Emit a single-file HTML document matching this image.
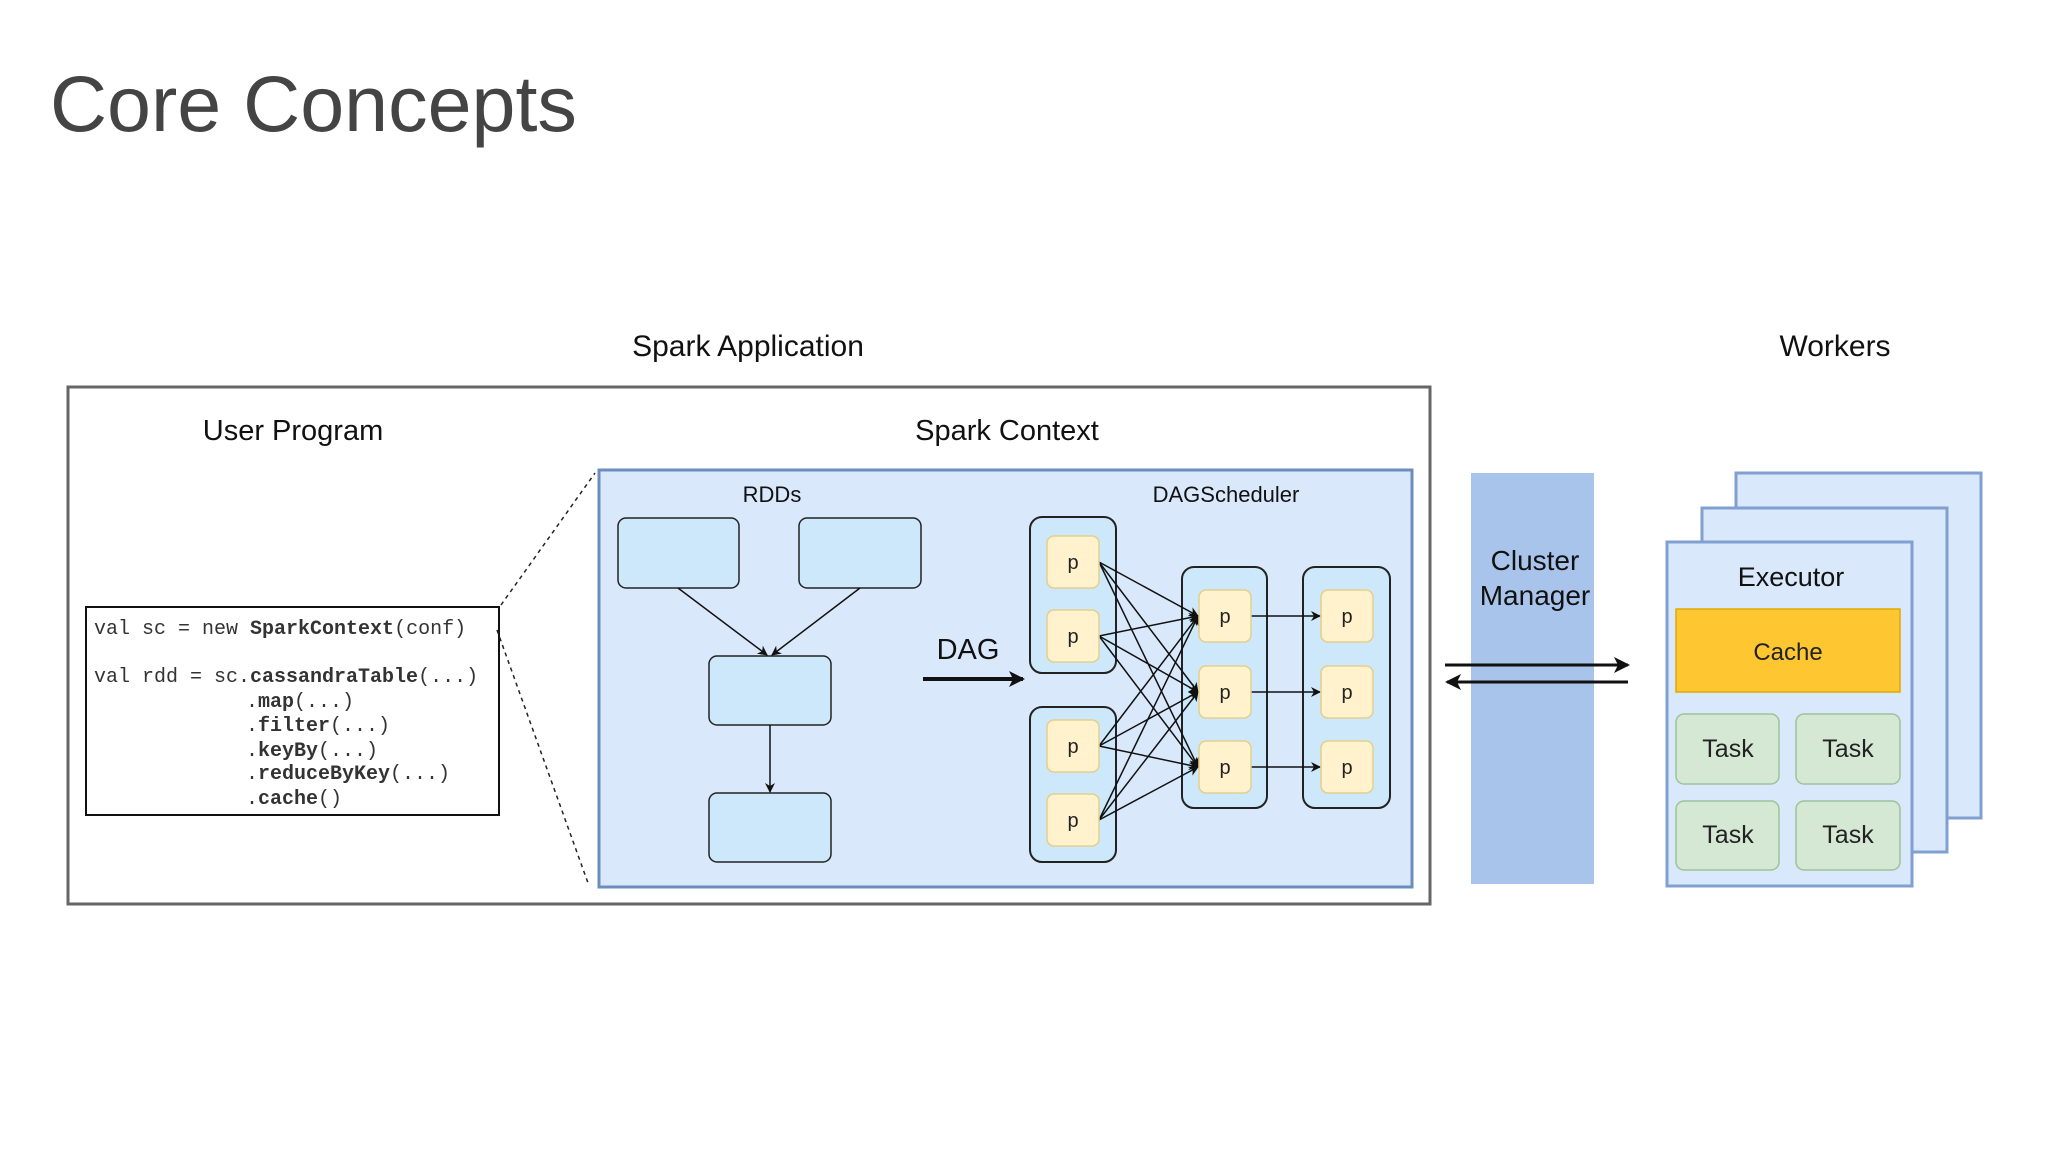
<!DOCTYPE html>
<html><head><meta charset="utf-8"><style>
html,body{margin:0;padding:0;background:#fff;}
svg{display:block;}
text{font-family:"Liberation Sans",sans-serif;}
.m{font-family:"Liberation Mono",monospace;font-size:20px;fill:#333;}
</style></head><body>
<svg width="2048" height="1152" viewBox="0 0 2048 1152" xmlns="http://www.w3.org/2000/svg">
<defs>
<marker id="a" markerWidth="10" markerHeight="10" refX="9" refY="5" orient="auto" markerUnits="userSpaceOnUse"><path d="M0,0 L10,5 L0,10 L3,5 Z" fill="#111"/></marker>
<marker id="b" markerWidth="16" markerHeight="16" refX="14" refY="8" orient="auto" markerUnits="userSpaceOnUse"><path d="M0,0 L16,8 L0,16 L4,8 Z" fill="#111"/></marker>
</defs>
<text x="50" y="131" font-size="79" fill="#444">Core Concepts</text>
<text x="748" y="356" font-size="30" text-anchor="middle" fill="#111">Spark Application</text>
<text x="1835" y="356" font-size="30" text-anchor="middle" fill="#111">Workers</text>

<rect x="68" y="387" width="1362" height="517" fill="#fff" stroke="#666" stroke-width="3"/>
<text x="293" y="440" font-size="29" text-anchor="middle" fill="#111">User Program</text>
<text x="1007" y="440" font-size="29" text-anchor="middle" fill="#111">Spark Context</text>

<rect x="86" y="607" width="413" height="208" fill="#fff" stroke="#111" stroke-width="2"/>
<text class="m" x="94" y="634">val sc = new <tspan font-weight="bold">SparkContext</tspan>(conf)</text>
<text class="m" x="94" y="682">val rdd = sc.<tspan font-weight="bold">cassandraTable</tspan>(...)</text>
<text class="m" x="246" y="707">.<tspan font-weight="bold">map</tspan>(...)</text>
<text class="m" x="246" y="731">.<tspan font-weight="bold">filter</tspan>(...)</text>
<text class="m" x="246" y="756">.<tspan font-weight="bold">keyBy</tspan>(...)</text>
<text class="m" x="246" y="779">.<tspan font-weight="bold">reduceByKey</tspan>(...)</text>
<text class="m" x="246" y="804">.<tspan font-weight="bold">cache</tspan>()</text>

<rect x="599" y="470" width="813" height="417" fill="#dae8fc" stroke="#6c8ebf" stroke-width="3"/>
<line x1="501" y1="605" x2="595" y2="473" stroke="#222" stroke-width="1.5" stroke-dasharray="4,4"/>
<line x1="497" y1="630" x2="588" y2="883" stroke="#222" stroke-width="1.5" stroke-dasharray="4,4"/>

<text x="772" y="502" font-size="22" text-anchor="middle" fill="#111">RDDs</text>
<g fill="#cce8fa" stroke="#222" stroke-width="1.5">
<rect x="618" y="518" width="121" height="70" rx="8"/>
<rect x="799" y="518" width="122" height="70" rx="8"/>
<rect x="709" y="656" width="122" height="69" rx="8"/>
<rect x="709" y="793" width="122" height="69" rx="8"/>
</g>
<g stroke="#111" stroke-width="1.5" marker-end="url(#a)">
<line x1="678" y1="588" x2="767" y2="655"/>
<line x1="860" y1="588" x2="772" y2="655"/>
<line x1="770" y1="725" x2="770" y2="792"/>
</g>
<text x="968" y="659" font-size="29" text-anchor="middle" fill="#111">DAG</text>
<line x1="923" y1="679" x2="1023" y2="679" stroke="#111" stroke-width="4" marker-end="url(#b)"/>

<text x="1226" y="502" font-size="22" text-anchor="middle" fill="#111">DAGScheduler</text>
<g fill="#cce8fa" stroke="#222" stroke-width="2">
<rect x="1030" y="517" width="86" height="156" rx="12"/>
<rect x="1030" y="707" width="86" height="155" rx="12"/>
<rect x="1182" y="567" width="85" height="241" rx="12"/>
<rect x="1303" y="567" width="87" height="241" rx="12"/>
</g>
<g stroke="#111" stroke-width="1.5" marker-end="url(#a)">
<line x1="1099" y1="562" x2="1198" y2="616"/><line x1="1099" y1="562" x2="1198" y2="692"/><line x1="1099" y1="562" x2="1198" y2="767"/>
<line x1="1099" y1="636" x2="1198" y2="616"/><line x1="1099" y1="636" x2="1198" y2="692"/><line x1="1099" y1="636" x2="1198" y2="767"/>
<line x1="1099" y1="746" x2="1198" y2="616"/><line x1="1099" y1="746" x2="1198" y2="692"/><line x1="1099" y1="746" x2="1198" y2="767"/>
<line x1="1099" y1="820" x2="1198" y2="616"/><line x1="1099" y1="820" x2="1198" y2="692"/><line x1="1099" y1="820" x2="1198" y2="767"/>
<line x1="1251" y1="616" x2="1320" y2="616"/><line x1="1251" y1="692" x2="1320" y2="692"/><line x1="1251" y1="767" x2="1320" y2="767"/>
</g>
<g fill="#fff2cc" stroke="#e3cf8e" stroke-width="1.5">
<rect x="1047" y="536" width="52" height="52" rx="7"/>
<rect x="1047" y="610" width="52" height="52" rx="7"/>
<rect x="1047" y="720" width="52" height="52" rx="7"/>
<rect x="1047" y="794" width="52" height="52" rx="7"/>
<rect x="1199" y="590" width="52" height="52" rx="7"/>
<rect x="1199" y="666" width="52" height="52" rx="7"/>
<rect x="1199" y="741" width="52" height="52" rx="7"/>
<rect x="1321" y="590" width="52" height="52" rx="7"/>
<rect x="1321" y="666" width="52" height="52" rx="7"/>
<rect x="1321" y="741" width="52" height="52" rx="7"/>
</g>
<g font-size="20" text-anchor="middle" fill="#222">
<text x="1073" y="569">p</text><text x="1073" y="643">p</text><text x="1073" y="753">p</text><text x="1073" y="827">p</text>
<text x="1225" y="623">p</text><text x="1225" y="699">p</text><text x="1225" y="774">p</text>
<text x="1347" y="623">p</text><text x="1347" y="699">p</text><text x="1347" y="774">p</text>
</g>

<rect x="1471" y="473" width="123" height="411" fill="#a9c4eb"/>
<text x="1535" y="570" font-size="28" text-anchor="middle" fill="#111">Cluster</text>
<text x="1535" y="605" font-size="28" text-anchor="middle" fill="#111">Manager</text>
<line x1="1445" y1="665" x2="1628" y2="665" stroke="#111" stroke-width="3" marker-end="url(#b)"/>
<line x1="1628" y1="682" x2="1447" y2="682" stroke="#111" stroke-width="3" marker-end="url(#b)"/>

<g fill="#dae8fc" stroke="#7fa0d0" stroke-width="3">
<rect x="1736" y="473" width="245" height="345"/>
<rect x="1702" y="508" width="245" height="344"/>
<rect x="1667" y="542" width="245" height="344"/>
</g>
<text x="1791" y="586" font-size="27" text-anchor="middle" fill="#111">Executor</text>
<rect x="1676" y="609" width="224" height="83" fill="#fec731" stroke="#e0a800" stroke-width="1.5"/>
<text x="1788" y="660" font-size="24" text-anchor="middle" fill="#222">Cache</text>
<g fill="#d5e8d4" stroke="#9cc39a" stroke-width="1.5">
<rect x="1676" y="714" width="103" height="70" rx="8"/>
<rect x="1796" y="714" width="104" height="70" rx="8"/>
<rect x="1676" y="801" width="103" height="69" rx="8"/>
<rect x="1796" y="801" width="104" height="69" rx="8"/>
</g>
<g font-size="25" text-anchor="middle" fill="#222">
<text x="1728" y="757">Task</text><text x="1848" y="757">Task</text>
<text x="1728" y="843">Task</text><text x="1848" y="843">Task</text>
</g>
</svg>
</body></html>
